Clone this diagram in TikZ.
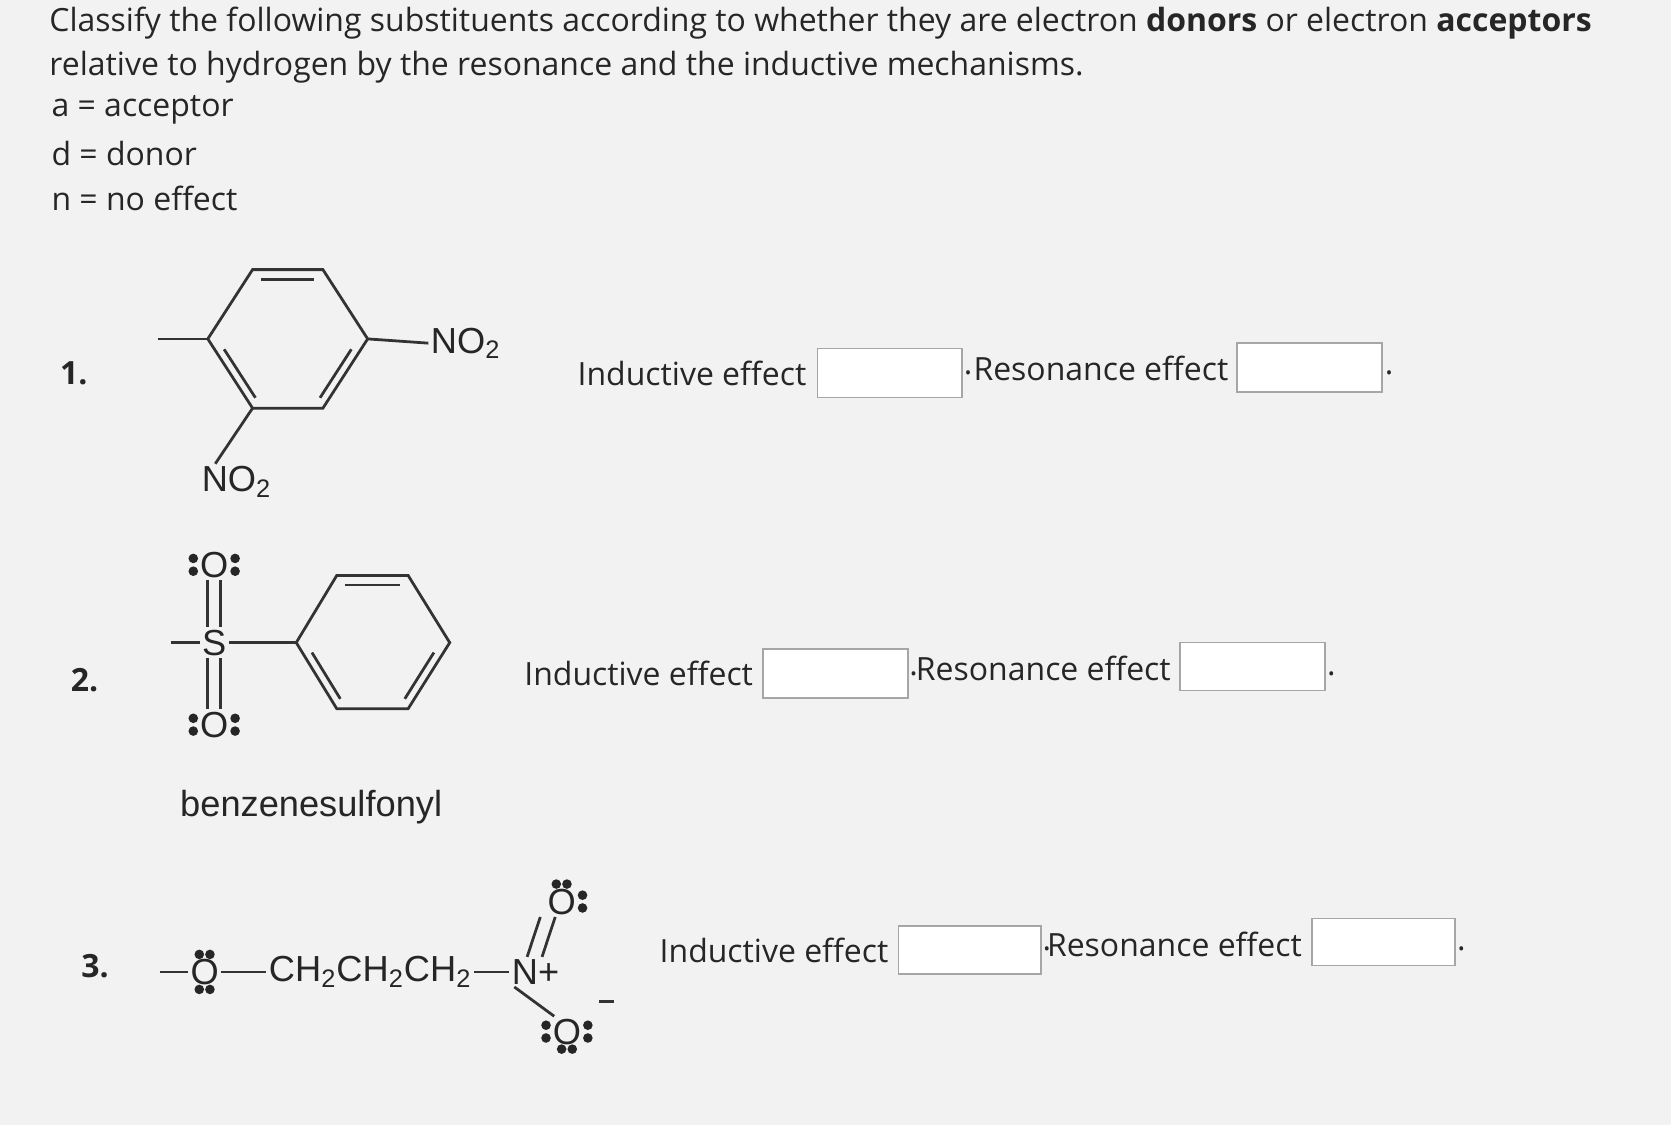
\documentclass[tikz,border=0pt]{standalone}
\usetikzlibrary{calc}
\usepackage{fontspec}
\setmainfont{Open Sans}
\newfontfamily\arialf{Liberation Sans}
\newcommand{\sbs}[1]{\textsubscript{#1}}
\begin{document}
\begin{tikzpicture}[x=0.5pt,y=-0.5pt,
  txt/.style={font=\fontsize{15}{18}\selectfont,anchor=west,inner sep=0,text=black!85},
  chem/.style={font=\arialf\fontsize{17}{20}\selectfont,inner sep=1pt,text=black!85},
  bd/.style={line width=1.3pt,black!80},
  ansbox/.style={draw=black!35,fill=white,line width=0.8pt},
  dot/.style={circle,fill=black!85,inner sep=0,minimum size=4.5pt}]
\fill[black!5] (0,0) rectangle (1568,1056);
\useasboundingbox (0,0) rectangle (1568,1056);
% header
\node[txt] (t1) at (46,22) {Classify the following substituents according to whether they are electron \textbf{donors} or electron \textbf{acceptors}};
\node[txt] (t2) at (46,63) {relative to hydrogen by the resonance and the inductive mechanisms.};
\node[txt] (t3) at (48,103) {a = acceptor};
\node[txt] (t4) at (48,144) {d = donor};
\node[txt] (t5) at (48,186) {n = no effect};
% numbers
\node[txt] (n1) at (56,350) {\textbf{1.}};
\node[txt] (n2) at (66,638) {\textbf{2.}};
\node[txt] (n3) at (76,907) {\textbf{3.}};
% molecule 1
\coordinate (a1) at (195,318); \coordinate (a2) at (237,253); \coordinate (a3) at (303,253);
\coordinate (a4) at (345,318); \coordinate (a5) at (303,383); \coordinate (a6) at (237,383);
\draw[bd] (a1)--(a2)--(a3)--(a4)--(a5)--(a6)--cycle;
\draw[bd] ([shift={(8,9)}]a2)--([shift={(-8,9)}]a3);
\draw[bd] ($(a4)!0.15!(a5)+(-9,0)$) -- ($(a4)!0.85!(a5)+(-9,0)$);
\draw[bd] ($(a6)!0.15!(a1)+(9,0)$) -- ($(a6)!0.85!(a1)+(9,0)$);
\coordinate (m1l) at (148,318);
\draw[bd] (m1l)--(a1);
\node[chem,anchor=west] (no2a) at (402,322) {NO\sbs{2}};
\draw[bd] (a4)--(no2a.west);
\node[chem] (no2b) at (222,452) {NO\sbs{2}};
\draw[bd] (a6)--([xshift=-10]no2b.north);
% molecule 2
\coordinate (b1) at (278,603); \coordinate (b2) at (316,540); \coordinate (b3) at (383,540);
\coordinate (b4) at (422,603); \coordinate (b5) at (383,665); \coordinate (b6) at (316,665);
\draw[bd] (b1)--(b2)--(b3)--(b4)--(b5)--(b6)--cycle;
\draw[bd] ([shift={(8,9)}]b2)--([shift={(-8,9)}]b3);
\draw[bd] ($(b4)!0.15!(b5)+(-9,0)$) -- ($(b4)!0.85!(b5)+(-9,0)$);
\draw[bd] ($(b6)!0.15!(b1)+(9,0)$) -- ($(b6)!0.85!(b1)+(9,0)$);
\node[chem] (S) at (201,603) {S};
\node[chem] (Ot) at (201,530) {O};
\node[chem] (Ob) at (201,680) {O};
\coordinate (m2l) at (160,603);
\draw[bd] (m2l)--(S.west);
\draw[bd] (S.east)--(b1);
\draw[bd] ([xshift=-3]S.north)--([xshift=-3]Ot.south);
\draw[bd] ([xshift=3]S.north)--([xshift=3]Ot.south);
\draw[bd] ([xshift=-3]S.south)--([xshift=-3]Ob.north);
\draw[bd] ([xshift=3]S.south)--([xshift=3]Ob.north);
\foreach \o in {Ot,Ob}{
  \node[dot] at ([shift={(-4,-6)}]\o.west) {}; \node[dot] at ([shift={(-4,6)}]\o.west) {};
  \node[dot] at ([shift={(4,-6)}]\o.east) {}; \node[dot] at ([shift={(4,6)}]\o.east) {};}
\node[chem] (bs) at (292,757) {benzenesulfonyl};
% molecule 3
\node[chem] (O3) at (192,912) {O};
\node[dot] at ([shift={(-5,-2)}]O3.north) {}; \node[dot] at ([shift={(5,-2)}]O3.north) {};
\node[dot] at ([shift={(-5,2)}]O3.south) {}; \node[dot] at ([shift={(5,2)}]O3.south) {};
\coordinate (m3l) at (150,912);
\draw[bd] (m3l)--(O3.west);
\node[chem,anchor=west] (ch) at (250,912) {CH\sbs{2}CH\sbs{2}CH\sbs{2}};
\draw[bd] (O3.east)--(ch.west);
\node[chem,anchor=west] (N) at (478,912) {N+};
\draw[bd] (ch.east)--(N.west);
\node[chem] (On) at (527,846) {O};
\node[dot] at ([shift={(-5,-2)}]On.north) {}; \node[dot] at ([shift={(5,-2)}]On.north) {};
\node[dot] at ([shift={(4,-6)}]On.east) {}; \node[dot] at ([shift={(4,6)}]On.east) {};
\draw[bd] ([xshift=-4]N.north)--([xshift=-10]On.south);
\draw[bd] ([xshift=3]N.north)--([xshift=-3]On.south);
\node[chem] (Os) at (532,968) {O};
\node[dot] at ([shift={(-4,-6)}]Os.west) {}; \node[dot] at ([shift={(-4,6)}]Os.west) {};
\node[dot] at ([shift={(4,-6)}]Os.east) {}; \node[dot] at ([shift={(4,6)}]Os.east) {};
\node[dot] at ([shift={(-5,2)}]Os.south) {}; \node[dot] at ([shift={(5,2)}]Os.south) {};
\draw[bd] ([xshift=-10]N.south)--([xshift=-6]Os.north);
\draw[bd] (562,940)--(576,940);
% answer rows
\draw[ansbox] (767,327) rectangle (903,373);
\node[txt,anchor=east] (i1) at (757,350) {Inductive effect};
\node[txt] at (904,350) {.};
\node[txt,anchor=east] (r1) at (1153,346) {Resonance effect};
\draw[ansbox] (1161,322) rectangle (1297,368);
\node[txt] at (1299,350) {.};
\draw[ansbox] (716,609) rectangle (852,655);
\node[txt,anchor=east] (i2) at (707,632) {Inductive effect};
\node[txt] at (853,632) {.};
\node[txt,anchor=east] (r2) at (1099,627) {Resonance effect};
\draw[ansbox] (1107,603) rectangle (1243,648);
\node[txt] at (1245,632) {.};
\draw[ansbox] (843,869) rectangle (977,914);
\node[txt,anchor=east] (i3) at (834,892) {Inductive effect};
\node[txt] at (978,890) {.};
\node[txt,anchor=east] (r3) at (1222,886) {Resonance effect};
\draw[ansbox] (1231,862) rectangle (1365,906);
\node[txt] at (1367,890) {.};
\end{tikzpicture}
\end{document}
